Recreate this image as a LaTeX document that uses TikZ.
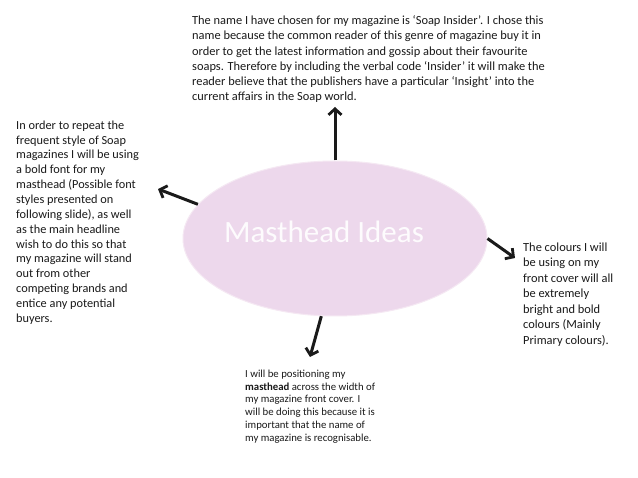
\documentclass[tikz,border=0pt]{standalone}
\usepackage{fontspec}
\setmainfont{Carlito}
\usetikzlibrary{shapes.geometric,arrows.meta}
\definecolor{ellfill}{HTML}{EDD8EC}
\definecolor{ellline}{HTML}{F5E8F3}
\definecolor{ink}{HTML}{1A1A1A}
\tikzset{
 txt/.style={inner sep=0pt,anchor=north west,align=left,text=ink},
 arr/.style={draw=ink,line width=3pt,-{Straight Barb[length=6pt,width=13pt,line width=2.8pt]}},
}
\begin{document}
\begin{tikzpicture}[x=1pt,y=-1pt]
\useasboundingbox (0,0) rectangle (638,478);
\fill[white] (0,0) rectangle (638,478);
\node[ellipse,draw=ellline,fill=ellfill,line width=1pt,minimum width=304pt,minimum height=155pt,inner sep=0pt] (ell) at (335,238.5) {};
\node[inner sep=0pt,text=white!90!ellfill,font=\fontsize{31}{36}\selectfont] (title) at (324,232) {Masthead Ideas};
\node[txt,font=\fontsize{12.4}{15.2}\selectfont] (top) at (192,15.5) {The name I have chosen for my magazine is ‘Soap Insider’. I chose this\\name because the common reader of this genre of magazine buy it in\\order to get the latest information and gossip about their favourite\\soaps. Therefore by including the verbal code ‘Insider’ it will make the\\reader believe that the publishers have a particular ‘Insight’ into the\\current affairs in the Soap world.};
\node[txt,font=\fontsize{12.3}{14.85}\selectfont] (left) at (16,120.5) {In order to repeat the\\frequent style of Soap\\magazines I will be using\\a bold font for my\\masthead (Possible font\\styles presented on\\following slide), as well\\as the main headline\\wish to do this so that\\my magazine will stand\\out from other\\competing brands and\\entice any potential\\buyers.};
\node[txt,font=\fontsize{12.4}{15.5}\selectfont] (right) at (523,242.5) {The colours I will\\be using on my\\front cover will all\\be extremely\\bright and bold\\colours (Mainly\\Primary colours).};
\node[txt,font=\fontsize{10.75}{12.9}\selectfont] (bottom) at (245,369.5) {I will be positioning my\\\textbf{masthead} across the width of\\my magazine front cover. I\\will be doing this because it is\\important that the name of\\my magazine is recognisable.};
\coordinate (at) at (335,107);
\coordinate (al) at (158,189);
\coordinate (ar) at (515,258);
\coordinate (ab) at (310,357);
\draw[arr] (ell.90) -- (at);
\draw[arr] (ell.166) -- (al);
\draw[arr] (ell.0) -- (ar);
\draw[arr] (ell.260.5) -- (ab);
\end{tikzpicture}
\end{document}
